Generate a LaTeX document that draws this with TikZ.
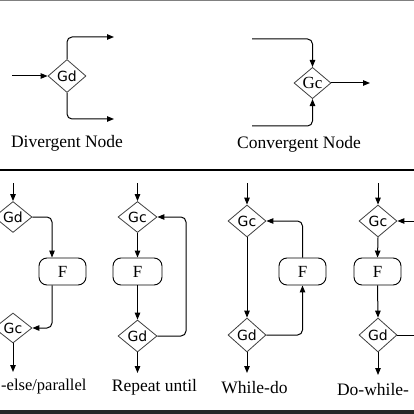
\documentclass[tikz,border=0pt]{standalone}
\usepackage{fontspec}
\setmainfont{Liberation Serif}
\newfontfamily\gsans{DejaVu Sans}
\usetikzlibrary{shapes.geometric,arrows.meta}
\tikzset{
  dia/.style={diamond, draw=black!75, line width=0.8pt, inner sep=0pt,
    minimum width=38pt, minimum height=32pt, font=\gsans\fontsize{14}{16}\selectfont},
  diaser/.style={dia, font=\fontsize{17}{19}\selectfont},
  fbox/.style={rectangle, rounded corners=8pt, draw, line width=0.9pt,
    minimum width=47pt, minimum height=27pt, font=\fontsize{17}{19}\selectfont},
  conn/.style={line width=1pt, rounded corners=5pt},
  arr/.style={conn, -{Triangle[length=7pt,width=5.5pt]}},
  lbl/.style={font=\fontsize{17.5}{20}\selectfont, inner sep=0pt}
}
\begin{document}
\begin{tikzpicture}[x=1pt,y=-1pt]
\useasboundingbox (0,0) rectangle (414,414);
\clip (0,0) rectangle (414,414);
\fill[white] (0,0) rectangle (414,414);
% frame lines
\fill[black!50] (0,0) rectangle (414,1.5);
\draw[line width=1.2pt] (0,170) -- (414,170);
\fill[black!85] (0,410) rectangle (414,414);

% ---- Divergent node
\node[dia, minimum height=33pt] (D0) at (67,76) {Gd};
\coordinate (d0in) at (12,76);
\coordinate (d0a) at (114,37);
\coordinate (d0b) at (114,119);
\draw[arr] (d0in) -- (D0.west);
\draw[arr] (D0.north) |- (d0a);
\draw[arr] (D0.south) |- (d0b);
\node[lbl] (L0) at (67,143) {Divergent Node};

% ---- Convergent node
\node[diaser, minimum width=37pt, minimum height=31pt] (C0) at (312.5,83) {Gc};
\coordinate (c0a) at (252,39);
\coordinate (c0b) at (252,126);
\coordinate (c0out) at (370,83);
\draw[arr] (c0a) -| (C0.north);
\draw[arr] (c0b) -| (C0.south);
\draw[arr] (C0.east) -- (c0out);
\node[lbl] (L1) at (299,144) {Convergent Node};

% ---- If-then-else / parallel
\node[dia, minimum height=31pt] (Gd1) at (13,217) {Gd};
\node[fbox] (F1) at (62.5,271.5) {F};
\node[dia, minimum height=30pt] (Gc1) at (13,328) {Gc};
\coordinate (i1) at (13,183);
\coordinate (o1) at (13,372);
\coordinate (k1) at (52,300);
\draw[arr] (i1) -- (Gd1.north);
\draw[arr] (Gd1.east) -| (k1 |- F1.north);
\draw[arr] (k1 |- F1.south) |- (Gc1.east);
\draw[arr] (Gc1.south) -- (o1);
\node[lbl, anchor=west, font=\fontsize{16.5}{19}\selectfont] (L2) at (1,387) {-else/parallel};

% ---- Repeat until
\node[dia, minimum width=39pt, minimum height=31pt] (Gc2) at (137.5,217) {Gc};
\node[fbox, minimum width=49pt] (F2) at (137.5,271.5) {F};
\node[dia, minimum width=39pt] (Gd2) at (137.5,336) {Gd};
\coordinate (i2) at (137.5,183);
\coordinate (o2) at (137.5,373);
\coordinate (k2) at (186,300);
\draw[arr] (i2) -- (Gc2.north);
\draw[arr] (Gc2.south) -- (F2.north);
\draw[arr] (F2.south) -- (Gd2.north);
\draw[arr] (Gd2.south) -- (o2);
\draw[arr] (Gd2.east) -| (k2) |- (Gc2.east);
\node[lbl] (L3) at (154.5,387) {Repeat until};

% ---- While-do
\node[dia] (Gc3) at (247,221) {Gc};
\node[dia, minimum height=34pt] (Gd3) at (247,335) {Gd};
\node[fbox] (F3) at (302.5,271.5) {F};
\coordinate (i3) at (247,183);
\coordinate (o3) at (247,373);
\draw[arr] (i3) -- (Gc3.north);
\draw[arr] (Gc3.south) -- (Gd3.north);
\draw[arr] (Gd3.south) -- (o3);
\draw[arr] (Gd3.east) -| (F3.south);
\draw[arr] (F3.north) |- (Gc3.east);
\node[lbl] (L4) at (254.5,388) {While-do};

% ---- Do-while
\node[dia] (Gc4) at (378,221) {Gc};
\node[fbox] (F4) at (377.5,271.5) {F};
\node[dia, minimum height=34pt] (Gd4) at (378,335) {Gd};
\coordinate (i4) at (378,183);
\coordinate (o4) at (378,375);
\coordinate (e4a) at (420,221);
\coordinate (e4b) at (420,335);
\draw[arr] (i4) -- (Gc4.north);
\draw[arr] (Gc4.south) -- (F4.north);
\draw[arr] (F4.south) -- (Gd4.north);
\draw[arr] (Gd4.south) -- (o4);
\draw[conn] (Gd4.east) -- (e4b);
\draw[arr] (e4a) -- (Gc4.east);
\node[lbl] (L5) at (373,390) {Do-while-};
\end{tikzpicture}
\end{document}
